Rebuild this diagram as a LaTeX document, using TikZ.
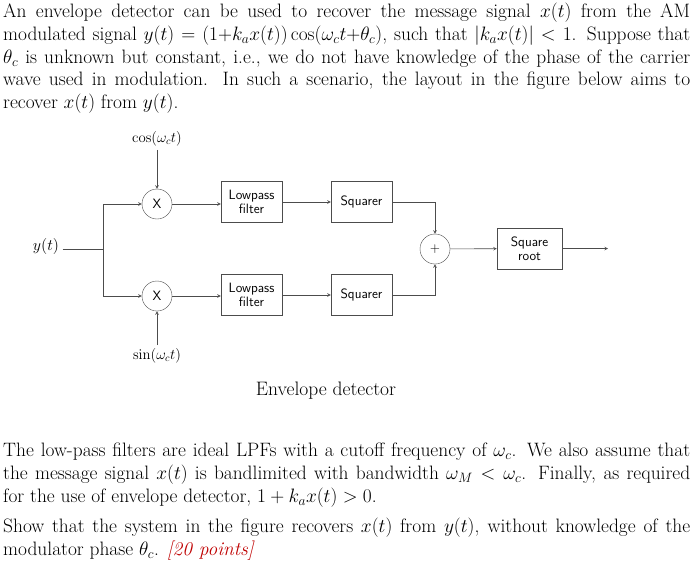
\RequirePackage{fix-cm}
\documentclass[tikz,border=0pt]{standalone}
\usepackage{amsmath}
\usepackage{xcolor}
\begin{document}
\begin{tikzpicture}[x=1pt,y=-1pt,
 para/.style={anchor=north west,text width=687pt,inner sep=0pt,align=justify,font=\fontsize{19.4}{22.7}\selectfont},
 blk/.style={draw=black!70,minimum width=61pt,minimum height=41pt,inner sep=1pt,align=center,font=\sffamily\fontsize{13.5}{13.5}\selectfont},
 mix/.style={draw=black!70,circle,minimum size=30pt,inner sep=0pt,font=\sffamily\fontsize{13.5}{15}\selectfont},
 ln/.style={draw=black!70,line width=0.6pt},
 arr/.style={ln,->,>=stealth},
 lbl/.style={font=\fontsize{14.7}{17}\selectfont}]
\useasboundingbox (0,0) rectangle (698,571);
\node[para] (p1) at (3,3) {An envelope detector can be used to recover the message signal $x(t)$ from the AM\linebreak modulated signal $y(t)=(1{+}k_ax(t))\cos(\omega_ct{+}\theta_c)$, such that $|k_ax(t)|<1$. Suppose that\linebreak $\theta_c$ is unknown but constant, i.e., we do not have knowledge of the phase of the carrier\linebreak wave used in modulation. In such a scenario, the layout in the figure below aims to\linebreak recover $x(t)$ from $y(t)$.};
\node[para] (p2) at (3,443) {The low-pass filters are ideal LPFs with a cutoff frequency of $\omega_c$. We also assume that\linebreak the message signal $x(t)$ is bandlimited with bandwidth $\omega_M<\omega_c$. Finally, as required\linebreak for the use of envelope detector, $1+k_ax(t)>0$.};
\node[para] (p3) at (3,518) {Show that the system in the figure recovers $x(t)$ from $y(t)$, without knowledge of the\linebreak modulator phase $\theta_c$. \textcolor{red!75!black}{\textit{[20 points]}}};
\node[lbl,font=\fontsize{16}{18}\selectfont] (y) at (46,246) {$y(t)$};
\coordinate (br) at (103,249);
\node[mix] (m1) at (157,204) {X};
\node[mix] (m2) at (157,296) {X};
\node[lbl] (cos) at (157,139) {$\cos(\omega_ct)$};
\node[lbl] (sin) at (157,356) {$\sin(\omega_ct)$};
\node[blk] (l1) at (251.5,202) {Lowpass\\filter};
\node[blk] (l2) at (251.5,295) {Lowpass\\filter};
\node[blk] (s1) at (361.5,202) {Squarer};
\node[blk] (s2) at (361.5,295) {Squarer};
\node[mix] (pl) at (435,249) {+};
\node[blk,minimum width=65pt] (sr) at (529.5,248.5) {Square\\root};
\coordinate (out) at (608,248.5);
\node[font=\fontsize{19.5}{20}\selectfont] (cap) at (326,391) {Envelope detector};
\draw[ln] (y.east|-br) -- (br);
\draw[arr] (br) |- (m1.west);
\draw[arr] (br) |- (m2.west);
\draw[arr] (cos.south) -- (m1.north);
\draw[arr] (sin.north) -- (m2.south);
\draw[arr] (m1) -- (l1.west|-m1);
\draw[arr] (m2) -- (l2.west|-m2);
\draw[arr] (l1) -- (s1);
\draw[arr] (l2) -- (s2);
\draw[arr] (s1.east) -| (pl.north);
\draw[arr] (s2.east) -| (pl.south);
\draw[arr] (pl) -- (sr);
\draw[arr] (sr) -- (out);
\end{tikzpicture}
\end{document}
